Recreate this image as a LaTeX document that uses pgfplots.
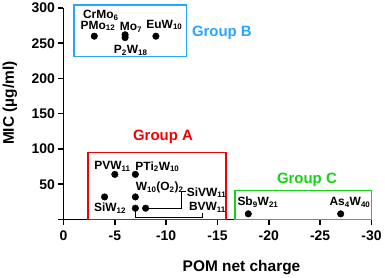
\documentclass[border=0pt]{standalone}
\usepackage{pgfplots}
\pgfplotsset{compat=1.18}
\usepackage{fontspec}
\setmainfont{Liberation Sans}
\definecolor{gA}{RGB}{240,0,0}
\definecolor{gB}{RGB}{40,165,255}
\definecolor{gC}{RGB}{20,210,20}
\newcommand{\lab}{\bfseries\fontsize{12}{12}\selectfont}
\newcommand{\grp}{\bfseries\fontsize{15}{15}\selectfont}
\begin{document}
\begin{tikzpicture}
\path[use as bounding box] (-63.5bp,-58.5bp) rectangle (321.5bp,219.5bp);
\begin{axis}[
  scale only axis, width=308bp, height=211.5bp,
  at={(0,0)}, anchor=south west,
  xmin=-30, xmax=0, x dir=reverse, ymin=0, ymax=300,
  axis x line*=bottom, axis y line*=left,
  axis line style={line width=1.5bp, -},
  every tick/.style={line width=1.5bp, black},
  tick align=outside, major tick length=5bp,
  xtick={0,-5,-10,-15,-20,-25,-30},
  xticklabels={0,-5,-10,-15,-20,-25,-30},
  ytick={0,50,100,150,200,250,300},
  yticklabels={,50,100,150,200,250,300},
  ticklabel style={font=\bfseries\fontsize{14}{14}\selectfont},
  xticklabel style={yshift=-2.5bp},
  xlabel={POM net charge}, ylabel={MIC (µg/ml)},
  label style={font=\bfseries\fontsize{15.5}{15.5}\selectfont},
  xlabel style={at={(axis description cs:0.578,-0.229)}, anchor=center},
  ylabel style={at={(axis description cs:-0.174,0.55)}, anchor=center},
  clip=false,
]
\addplot[only marks, mark=*, mark size=3.3bp, black] coordinates {
  (-3,260) (-6,258) (-6,262) (-9,260)
  (-5,64) (-7,64) (-4,32) (-7,32) (-7,16) (-8,16)
  (-18,8) (-27,8)
};
% group boxes
\draw[gB, line width=1.6bp] (axis cs:-1.02,231) rectangle (axis cs:-12,304);
\draw[gA, line width=1.6bp] (axis cs:-2.4,0) rectangle (axis cs:-15.8,95.3);
\draw[gC, line width=1.6bp] (axis cs:-16.7,0) rectangle (axis cs:-30,40.9);
\node[gB, font=\grp] at (axis cs:-15.43,264.5) {Group B};
\node[gA, font=\grp] at (axis cs:-9.69,117) {Group A};
\node[gC, font=\grp] at (axis cs:-23.71,56) {Group C};
% leader lines
\draw[black, line width=0.9bp] (axis cs:-8,16) -- (axis cs:-11.5,16) -- (axis cs:-11.5,39.4) -- (axis cs:-11.9,39.4);
\draw[black, line width=0.9bp] (axis cs:-7,16) -- (axis cs:-7,2.5) -- (axis cs:-13.55,2.5) -- (axis cs:-13.55,8.8);
% data labels
\node[font=\lab] at (axis cs:-3.63,290) {CrMo\textsubscript{6}};
\node[font=\lab] at (axis cs:-3.36,274.5) {PMo\textsubscript{12}};
\node[font=\lab] at (axis cs:-6.57,273) {Mo\textsubscript{7}};
\node[font=\lab] at (axis cs:-9.83,276) {EuW\textsubscript{10}};
\node[font=\lab] at (axis cs:-6.55,240) {P\textsubscript{2}W\textsubscript{18}};
\node[font=\lab] at (axis cs:-4.77,75) {PVW\textsubscript{11}};
\node[font=\lab] at (axis cs:-9.15,75) {PTi\textsubscript{2}W\textsubscript{10}};
\node[font=\lab] at (axis cs:-9.37,45) {W\textsubscript{10}(O\textsubscript{2})\textsubscript{2}};
\node[font=\lab] at (axis cs:-13.94,38) {SiVW\textsubscript{11}};
\node[font=\lab] at (axis cs:-4.53,16) {SiW\textsubscript{12}};
\node[font=\lab] at (axis cs:-14.02,17) {BVW\textsubscript{11}};
\node[font=\lab] at (axis cs:-18.94,24) {Sb\textsubscript{9}W\textsubscript{21}};
\node[font=\lab] at (axis cs:-27.9,24) {As\textsubscript{4}W\textsubscript{40}};
\end{axis}
\end{tikzpicture}
\end{document}
